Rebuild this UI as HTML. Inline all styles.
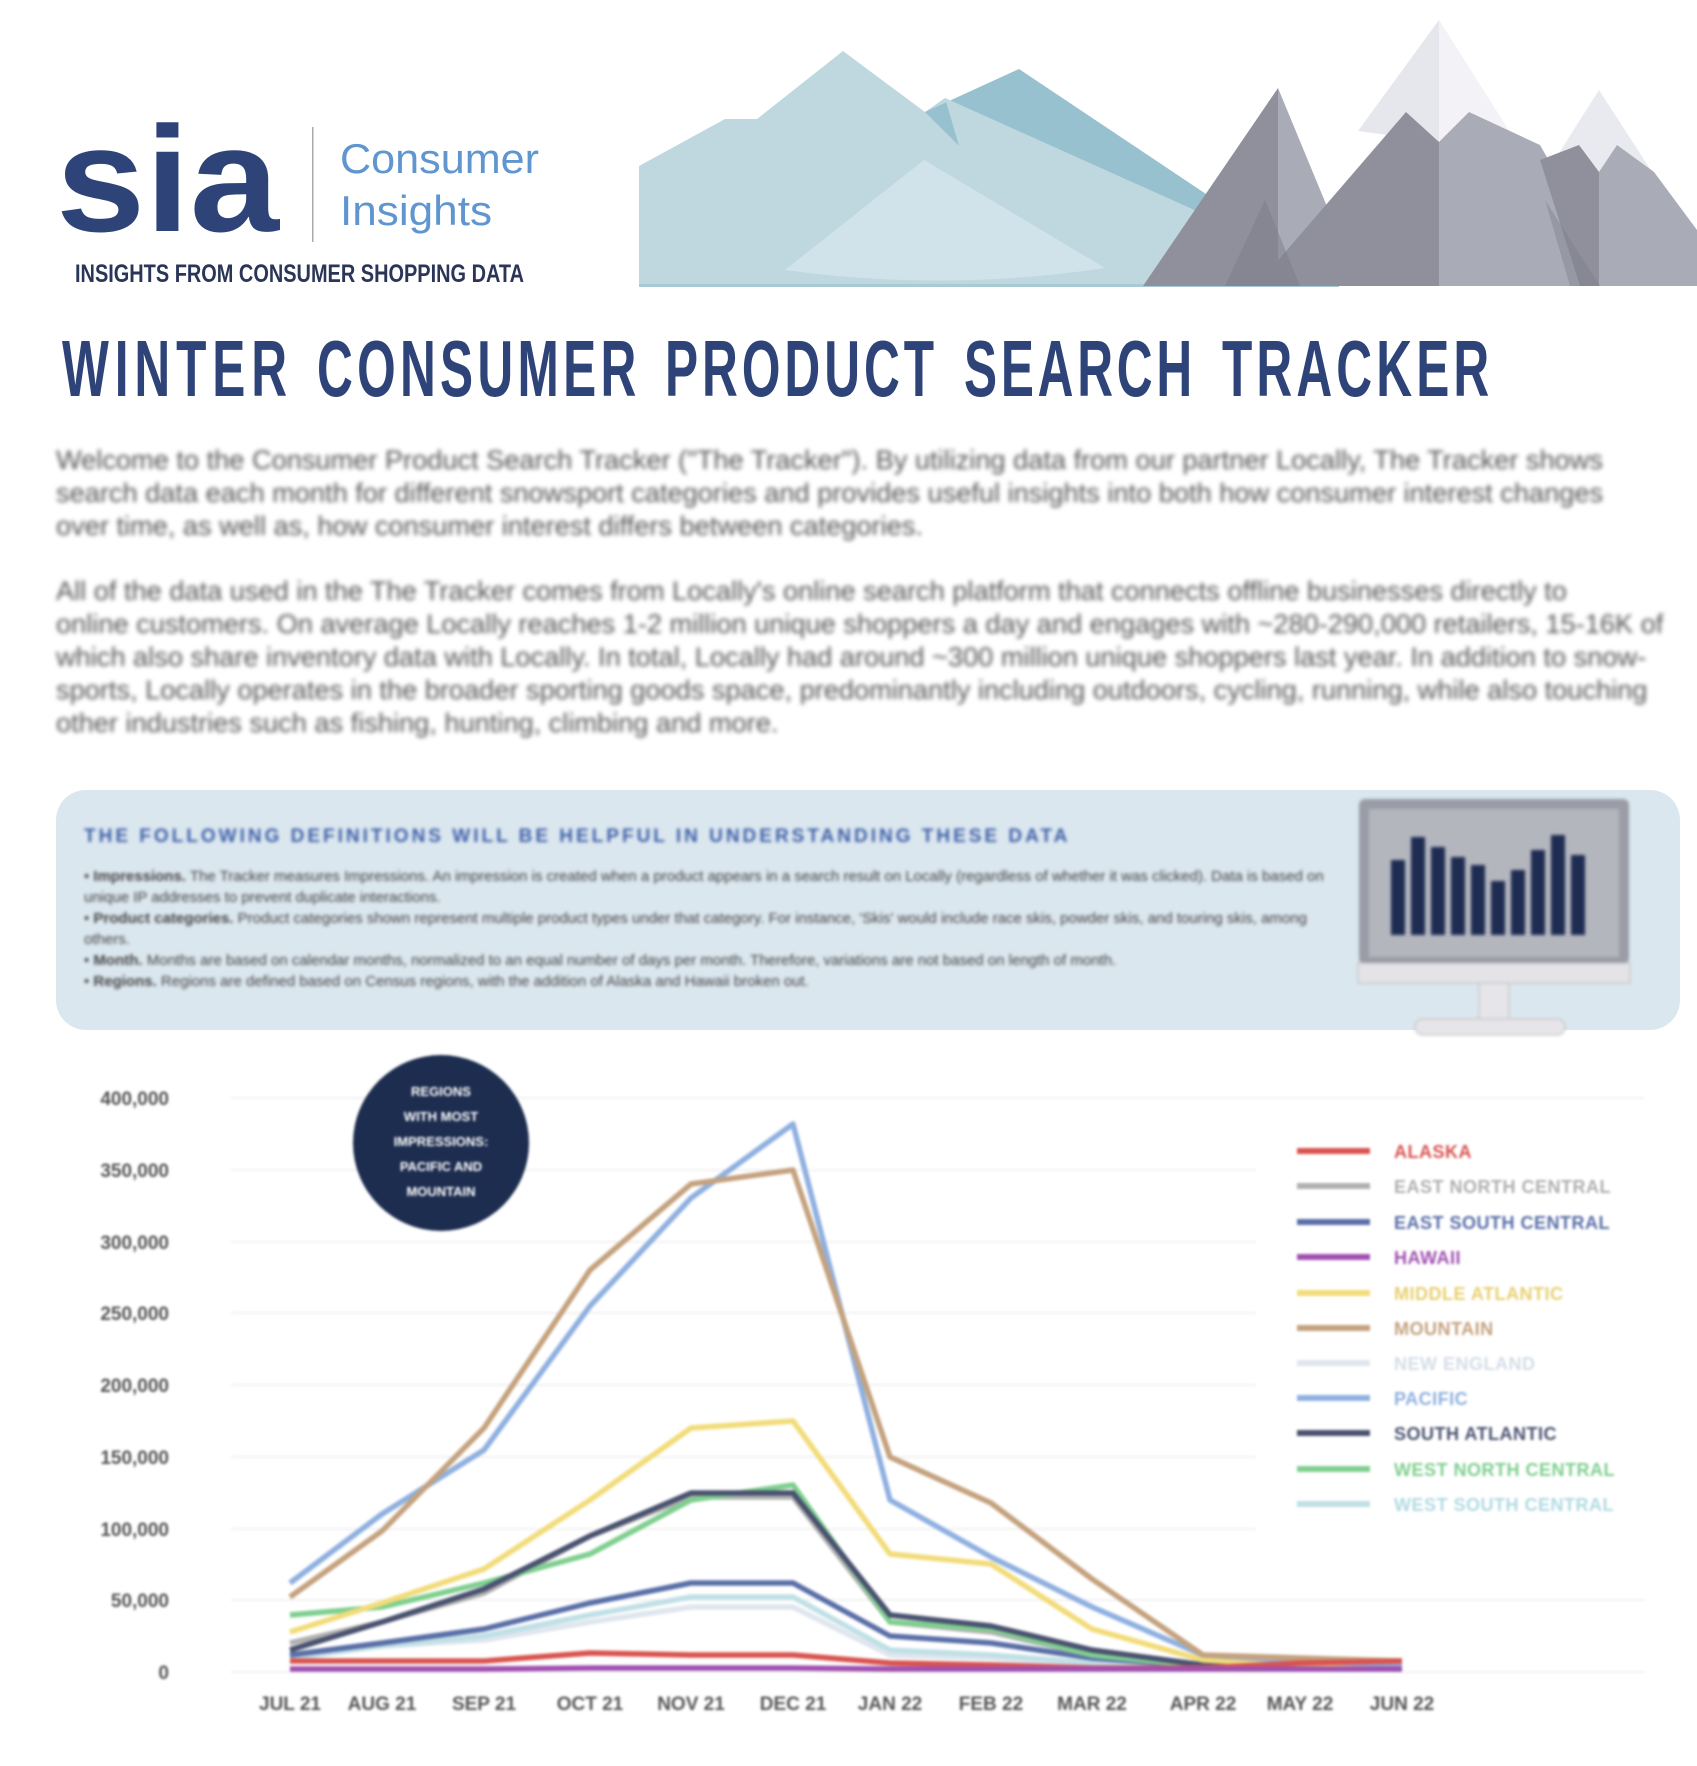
<!DOCTYPE html>
<html><head><meta charset="utf-8"><style>
html,body{margin:0;padding:0;background:#fff;}
body{width:1697px;height:1766px;position:relative;overflow:hidden;font-family:"Liberation Sans",sans-serif;}
.abs{position:absolute;}
.para{position:absolute;left:56px;width:1640px;font-size:27.2px;line-height:33px;color:#555;filter:blur(2.2px);white-space:nowrap;}
.box{position:absolute;left:56px;top:790px;width:1624px;height:240px;background:#dbe7ef;border-radius:30px;}
.bul{position:absolute;left:84px;top:866px;width:1240px;font-size:15px;line-height:21px;color:#444;filter:blur(1.6px);}
</style></head><body>
<svg class="abs" style="left:0;top:0" width="1697" height="420">
 <polygon points="639,166 725,119 757,119 843,51 925,112 945,98 1210,217 1210,286 639,286" fill="#bfd8e0"/>
 <polygon points="925,112 1019,69 1215,200 1215,286 1100,286" fill="#97c1ce"/>
 <polygon points="945,98 1210,217 1210,286 1000,286" fill="#bfd8e0"/>
 <path d="M785,270 L924,160 L1105,268 Q945,292 785,270 Z" fill="#d0e3ea"/>
 <rect x="639" y="284" width="700" height="3" fill="#a8cad4"/>
 <polygon points="1358,131 1439,20 1516,142 1439,142" fill="#e6e7ec"/>
 <polygon points="1439,20 1516,142 1439,142" fill="#f3f3f7"/>
 <polygon points="1143,286 1278,88 1278,286" fill="#8f909b"/>
 <polygon points="1278,88 1345,250 1300,286 1278,286" fill="#a9acb7"/>
 <polygon points="1545,175 1599,90 1654,175" fill="#e9eaef"/>
 <polygon points="1256,286 1406,112 1439,142 1439,286" fill="#8f909b"/>
 <polygon points="1439,142 1469,112 1540,145 1620,286 1439,286" fill="#a9acb7"/>
 <polygon points="1540,160 1579,145 1599,172 1599,286 1580,286" fill="#8f909b"/>
 <polygon points="1599,172 1617,145 1654,172 1697,230 1697,286 1599,286" fill="#a9acb7"/>
 <polygon points="1225,286 1265,200 1300,286" fill="#7b7c88" opacity="0.5"/>
 <polygon points="1570,286 1545,200 1600,286" fill="#7b7c88" opacity="0.4"/>
 <text x="56" y="231" font-family="Liberation Sans" font-weight="bold" font-size="150" fill="#2e4478" textLength="223" lengthAdjust="spacingAndGlyphs">sia</text>
 <rect x="312" y="127" width="1.5" height="115" fill="#aaa"/>
 <text x="340" y="173" font-family="Liberation Sans" font-size="42" fill="#5f96cf" textLength="199" lengthAdjust="spacingAndGlyphs">Consumer</text>
 <text x="340" y="225" font-family="Liberation Sans" font-size="42" fill="#5f96cf" textLength="152" lengthAdjust="spacingAndGlyphs">Insights</text>
 <text x="75" y="282" font-family="Liberation Sans" font-weight="bold" font-size="25" fill="#2a3558" textLength="449" lengthAdjust="spacingAndGlyphs">INSIGHTS FROM CONSUMER SHOPPING DATA</text>
 <g font-family="Liberation Sans" font-weight="bold" font-size="80" fill="#2e4478">
  <text transform="translate(62,396) scale(0.62,1)" textLength="363" lengthAdjust="spacing">WINTER</text>
  <text transform="translate(317,396) scale(0.62,1)" textLength="515" lengthAdjust="spacing">CONSUMER</text>
  <text transform="translate(665,396) scale(0.62,1)" textLength="434" lengthAdjust="spacing">PRODUCT</text>
  <text transform="translate(964,396) scale(0.62,1)" textLength="368" lengthAdjust="spacing">SEARCH</text>
  <text transform="translate(1222,396) scale(0.62,1)" textLength="431" lengthAdjust="spacing">TRACKER</text>
 </g>
</svg>
<div class="para" style="top:443px;">Welcome to the Consumer Product Search Tracker ("The Tracker"). By utilizing data from our partner Locally, The Tracker shows<br>search data each month for different snowsport categories and provides useful insights into both how consumer interest changes<br>over time, as well as, how consumer interest differs between categories.</div>
<div class="para" style="top:574px;">All of the data used in the The Tracker comes from Locally's online search platform that connects offline businesses directly to<br>online customers. On average Locally reaches 1-2 million unique shoppers a day and engages with ~280-290,000 retailers, 15-16K of<br>which also share inventory data with Locally. In total, Locally had around ~300 million unique shoppers last year. In addition to snow-<br>sports, Locally operates in the broader sporting goods space, predominantly including outdoors, cycling, running, while also touching<br>other industries such as fishing, hunting, climbing and more.</div>
<div class="box"></div>
<div class="abs" style="left:84px;top:826px;font-size:19px;font-weight:bold;color:#3e5fa8;letter-spacing:3px;filter:blur(1.6px);">THE FOLLOWING DEFINITIONS WILL BE HELPFUL IN UNDERSTANDING THESE DATA</div>
<div class="bul">• <b>Impressions.</b> The Tracker measures Impressions. An impression is created when a product appears in a search result on Locally (regardless of whether it was clicked). Data is based on unique IP addresses to prevent duplicate interactions.<br>• <b>Product categories.</b> Product categories shown represent multiple product types under that category. For instance, 'Skis' would include race skis, powder skis, and touring skis, among others.<br>• <b>Month.</b> Months are based on calendar months, normalized to an equal number of days per month. Therefore, variations are not based on length of month.<br>• <b>Regions.</b> Regions are defined based on Census regions, with the addition of Alaska and Hawaii broken out.</div>
<svg class="abs" style="left:1355px;top:795px;filter:blur(1.5px)" width="285" height="260">
 <rect x="4" y="4" width="270" height="165" rx="6" fill="#9a9ca6"/>
 <rect x="14" y="14" width="250" height="148" fill="#b4b6be"/>
 <rect x="3" y="168" width="272" height="20" fill="#e4e4e8" stroke="#bbb"/>
 <rect x="124" y="188" width="30" height="38" fill="#e6e6ea" stroke="#bbb"/>
 <rect x="60" y="224" width="150" height="16" rx="8" fill="#e6e6ea" stroke="#bbb"/>
 <g fill="#1f2c52">
  <rect x="36" y="65" width="14" height="75"/><rect x="56" y="42" width="14" height="98"/><rect x="76" y="52" width="14" height="88"/><rect x="96" y="62" width="14" height="78"/><rect x="116" y="70" width="14" height="70"/><rect x="136" y="86" width="14" height="54"/><rect x="156" y="75" width="14" height="65"/><rect x="176" y="55" width="14" height="85"/><rect x="196" y="40" width="14" height="100"/><rect x="216" y="60" width="14" height="80"/>
 </g>
</svg>
<svg class="abs" style="left:0;top:1040px;filter:blur(1.4px)" width="1697" height="726">
 <g stroke="#eee" stroke-width="1.5">
  <line x1="231" y1="58" x2="1644" y2="58"/>
  <line x1="231" y1="130" x2="1256" y2="130"/><line x1="231" y1="202" x2="1256" y2="202"/><line x1="231" y1="273" x2="1256" y2="273"/><line x1="231" y1="345" x2="1256" y2="345"/><line x1="231" y1="417" x2="1256" y2="417"/><line x1="231" y1="489" x2="1256" y2="489"/><line x1="231" y1="560" x2="1644" y2="560"/><line x1="231" y1="632" x2="1644" y2="632"/>
 </g>
 <g font-family="Liberation Sans" font-weight="bold" font-size="19" fill="#555" text-anchor="end">
  <text x="169" y="65">400,000</text><text x="169" y="137">350,000</text><text x="169" y="209">300,000</text><text x="169" y="280">250,000</text><text x="169" y="352">200,000</text><text x="169" y="424">150,000</text><text x="169" y="496">100,000</text><text x="169" y="567">50,000</text><text x="169" y="639">0</text>
 </g>
 <g font-family="Liberation Sans" font-weight="bold" font-size="19" fill="#555" text-anchor="middle">
  <text x="290" y="670">JUL 21</text><text x="382" y="670">AUG 21</text><text x="484" y="670">SEP 21</text><text x="590" y="670">OCT 21</text><text x="691" y="670">NOV 21</text><text x="793" y="670">DEC 21</text><text x="890" y="670">JAN 22</text><text x="991" y="670">FEB 22</text><text x="1092" y="670">MAR 22</text><text x="1203" y="670">APR 22</text><text x="1300" y="670">MAY 22</text><text x="1402" y="670">JUN 22</text>
 </g>
 <g fill="none" stroke-width="5.5" stroke-linejoin="round">
  <polyline stroke="#dfe6ee" points="290,615 382,606 484,600 590,582 691,567 793,567 890,615 991,618 1092,625 1203,628 1300,629 1402,629"/>
  <polyline stroke="#c0e0e6" points="290,618 382,606 484,596 590,575 691,557 793,557 890,610 991,615 1092,623 1203,628 1300,629 1402,629"/>
  <polyline stroke="#5a6fa8" points="290,615 382,603 484,589 590,563 691,543 793,543 890,596 991,603 1092,618 1203,626 1300,628 1402,628"/>
  <polyline stroke="#b0b0b0" points="290,603 382,582 484,553 590,496 691,457 793,457 890,582 991,592 1092,615 1203,625 1300,626 1402,628"/>
  <polyline stroke="#7fcf8f" points="290,575 382,567 484,543 590,514 691,460 793,445 890,582 991,589 1092,615 1203,626 1300,628 1402,629"/>
  <polyline stroke="#4a5270" points="290,610 382,582 484,549 590,496 691,453 793,453 890,575 991,586 1092,610 1203,625 1300,626 1402,628"/>
  <polyline stroke="#f2dc7a" points="290,592 382,563 484,529 590,460 691,388 793,381 890,514 991,524 1092,589 1203,620 1300,625 1402,626"/>
  <polyline stroke="#8fb0e0" points="290,543 382,474 484,410 590,266 691,158 793,84 890,460 991,517 1092,567 1203,615 1300,621 1402,625"/>
  <polyline stroke="#c4a27e" points="290,557 382,491 484,388 590,230 691,144 793,130 890,417 991,463 1092,539 1203,615 1300,618 1402,621"/>
  <polyline stroke="#d9534f" points="290,621 382,621 484,621 590,613 691,615 793,615 890,623 991,625 1092,628 1203,628 1300,623 1402,621"/>
  <polyline stroke="#a050b0" points="290,629 382,629 484,629 590,628 691,628 793,628 890,629 991,629 1092,629 1203,629 1300,629 1402,629"/>
 </g>
 <circle cx="441" cy="103" r="88" fill="#1d2d50"/>
 <g font-family="Liberation Sans" font-weight="bold" font-size="13" fill="#fff" text-anchor="middle">
  <text x="441" y="56">REGIONS</text><text x="441" y="81">WITH MOST</text><text x="441" y="106">IMPRESSIONS:</text><text x="441" y="131">PACIFIC AND</text><text x="441" y="156">MOUNTAIN</text>
 </g>
 <g stroke-width="6">
  <line x1="1297" y1="111" x2="1370" y2="111" stroke="#d9534f"/>
  <line x1="1297" y1="146" x2="1370" y2="146" stroke="#b0b0b0"/>
  <line x1="1297" y1="182" x2="1370" y2="182" stroke="#5a6fa8"/>
  <line x1="1297" y1="217" x2="1370" y2="217" stroke="#a050b0"/>
  <line x1="1297" y1="253" x2="1370" y2="253" stroke="#f2dc7a"/>
  <line x1="1297" y1="288" x2="1370" y2="288" stroke="#c4a27e"/>
  <line x1="1297" y1="323" x2="1370" y2="323" stroke="#dfe6ee"/>
  <line x1="1297" y1="358" x2="1370" y2="358" stroke="#8fb0e0"/>
  <line x1="1297" y1="393" x2="1370" y2="393" stroke="#4a5270"/>
  <line x1="1297" y1="429" x2="1370" y2="429" stroke="#7fcf8f"/>
  <line x1="1297" y1="464" x2="1370" y2="464" stroke="#c0e0e6"/>
 </g>
 <g font-family="Liberation Sans" font-weight="bold" font-size="18" letter-spacing="0.5">
  <text x="1394" y="118" fill="#d9534f">ALASKA</text>
  <text x="1394" y="153" fill="#b0b0b0">EAST NORTH CENTRAL</text>
  <text x="1394" y="189" fill="#5a6fa8">EAST SOUTH CENTRAL</text>
  <text x="1394" y="224" fill="#a050b0">HAWAII</text>
  <text x="1394" y="260" fill="#e8d070">MIDDLE ATLANTIC</text>
  <text x="1394" y="295" fill="#c4a27e">MOUNTAIN</text>
  <text x="1394" y="330" fill="#d5dde8">NEW ENGLAND</text>
  <text x="1394" y="365" fill="#8fb0e0">PACIFIC</text>
  <text x="1394" y="400" fill="#4a5270">SOUTH ATLANTIC</text>
  <text x="1394" y="436" fill="#7fcf8f">WEST NORTH CENTRAL</text>
  <text x="1394" y="471" fill="#b0dae2">WEST SOUTH CENTRAL</text>
 </g>
</svg>
</body></html>
